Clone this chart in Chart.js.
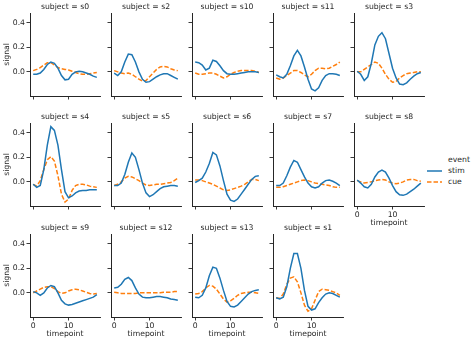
<!DOCTYPE html>
<html lang="en">
<head>
  <meta charset="UTF-8" />
  <title>signal by subject</title>
  <script src="https://cdn.jsdelivr.net/npm/chart.js"></script>
  <style>
    body {
      margin: 0;
      width: 474px;
      height: 342px;
      position: relative;
      overflow: hidden;
      background: #fff;
      font-family: "DejaVu Sans", sans-serif;
      color: #262626;
    }
    canvas.panel {
      position: absolute;
    }
    .leg {
      position: absolute;
      font-size: 7.7px;
      line-height: 10px;
      white-space: nowrap;
    }
    .legline {
      position: absolute;
    }
  </style>
</head>
<body>
  <div class="leg" style="left:448px; top:155px;">event</div>
  <svg class="legline" style="left:427px; top:169px;" width="16" height="4">
    <line x1="0" y1="2" x2="15" y2="2" stroke="#1f77b4" stroke-width="1.5" />
  </svg>
  <div class="leg" style="left:448px; top:166px;">stim</div>
  <svg class="legline" style="left:427px; top:180px;" width="16" height="4">
    <line x1="0" y1="2" x2="15" y2="2" stroke="#ff7f0e" stroke-width="1.5" stroke-dasharray="4.5 2" />
  </svg>
  <div class="leg" style="left:448px; top:177px;">cue</div>

  <script>
    // facets in reading order, 5 per row
    const subjects = ["s0", "s2", "s10", "s11", "s3", "s4", "s5", "s6", "s7", "s8", "s9", "s12", "s13", "s1"];
    const timepoints = [0, 1, 2, 3, 4, 5, 6, 7, 8, 9, 10, 11, 12, 13, 14, 15, 16, 17, 18];
    const xTicks = [0, 10];
    const yTicks = [0.0, 0.2, 0.4];

    // mean signal for the "stim" event, one row per subject
    const stimSignal = [
      [-0.02, -0.02, -0.01, 0.02, 0.06, 0.08, 0.07, 0.03, -0.03, -0.065, -0.06, -0.02, 0.0, 0.005, 0.0, -0.01, -0.02, -0.035, -0.045],
      [-0.01, -0.03, 0.0, 0.08, 0.145, 0.14, 0.08, 0.0, -0.06, -0.085, -0.08, -0.06, -0.04, -0.025, -0.015, -0.015, -0.03, -0.045, -0.06],
      [0.08, 0.075, 0.055, 0.015, 0.03, 0.095, 0.085, 0.05, 0.01, -0.015, -0.02, -0.02, -0.015, -0.01, -0.005, 0.0, 0.0, 0.0, -0.005],
      [-0.025, -0.04, -0.05, -0.02, 0.05, 0.13, 0.175, 0.13, 0.04, -0.06, -0.14, -0.155, -0.13, -0.07, -0.03, -0.015, -0.015, -0.02, -0.03],
      [0.005, -0.02, -0.07, -0.04, 0.07, 0.22, 0.29, 0.32, 0.27, 0.15, 0.03, -0.05, -0.1, -0.105, -0.09, -0.06, -0.035, -0.015, -0.005],
      [-0.02, -0.045, -0.03, 0.1, 0.3, 0.45, 0.42, 0.3, 0.1, -0.08, -0.13, -0.115, -0.09, -0.075, -0.07, -0.07, -0.065, -0.065, -0.065],
      [-0.03, -0.03, -0.01, 0.06, 0.16, 0.235, 0.2, 0.1, -0.01, -0.09, -0.12, -0.105, -0.08, -0.055, -0.04, -0.035, -0.03, -0.03, -0.035],
      [-0.005, 0.01, 0.03, 0.08, 0.15, 0.24, 0.22, 0.13, 0.01, -0.1, -0.15, -0.16, -0.14, -0.1, -0.06, -0.02, 0.02, 0.045, 0.05],
      [-0.03, -0.03, -0.01, 0.05, 0.12, 0.175, 0.16, 0.1, 0.04, -0.01, -0.04, -0.05, -0.04, -0.01, 0.01, 0.015, 0.005, -0.01, -0.03],
      [0.015, -0.01, -0.04, -0.05, -0.02, 0.04, 0.08, 0.095, 0.08, 0.03, -0.03, -0.08, -0.105, -0.11, -0.1, -0.08, -0.06, -0.035, -0.01],
      [0.01, 0.0, -0.02, 0.0, 0.04, 0.06, 0.05, 0.0, -0.06, -0.09, -0.1, -0.095, -0.085, -0.075, -0.065, -0.055, -0.045, -0.035, -0.015],
      [0.04, 0.045, 0.07, 0.11, 0.125, 0.1, 0.04, -0.01, -0.035, -0.04, -0.04, -0.035, -0.03, -0.03, -0.035, -0.04, -0.05, -0.055, -0.06],
      [-0.035, -0.04, -0.02, 0.04, 0.14, 0.21, 0.2, 0.12, 0.02, -0.07, -0.11, -0.115, -0.1, -0.07, -0.04, -0.01, 0.01, 0.02, 0.025],
      [-0.04, -0.05, -0.035, 0.05, 0.2, 0.32, 0.32, 0.2, 0.02, -0.11, -0.14, -0.13, -0.08, -0.04, -0.01, 0.0, -0.005, -0.02, -0.035]
    ];

    // mean signal for the "cue" event, same subject order
    const cueSignal = [
      [0.01, 0.02, 0.035, 0.055, 0.075, 0.075, 0.055, 0.035, 0.025, 0.02, 0.015, 0.005, -0.005, -0.015, -0.02, -0.02, -0.015, -0.01, -0.005],
      [0.01, 0.0, -0.01, -0.015, -0.01, -0.02, -0.04, -0.06, -0.075, -0.07, -0.04, -0.01, 0.02, 0.04, 0.045, 0.04, 0.025, 0.015, 0.01],
      [-0.01, -0.02, -0.02, -0.015, -0.01, -0.01, -0.02, -0.035, -0.05, -0.04, -0.02, -0.005, 0.005, 0.01, 0.01, 0.01, 0.01, 0.005, -0.005],
      [-0.05, -0.06, -0.05, -0.03, -0.01, 0.01, 0.01, -0.005, -0.025, -0.04, -0.02, 0.01, 0.03, 0.03, 0.025, 0.03, 0.045, 0.06, 0.08],
      [0.0, 0.0, 0.02, 0.04, 0.06, 0.08, 0.07, 0.03, -0.02, -0.06, -0.085, -0.08, -0.05, -0.03, -0.015, -0.01, -0.005, 0.0, 0.0],
      [-0.02, -0.035, 0.01, 0.1, 0.18, 0.205, 0.17, 0.05, -0.1, -0.165, -0.14, -0.07, -0.03, -0.02, -0.02, -0.025, -0.035, -0.04, -0.045],
      [-0.03, -0.02, 0.0, 0.03, 0.045, 0.04, 0.025, 0.01, -0.01, -0.025, -0.03, -0.025, -0.02, -0.02, -0.015, -0.01, -0.005, 0.01, 0.03],
      [0.015, 0.015, 0.01, 0.0, -0.01, -0.02, -0.035, -0.05, -0.065, -0.07, -0.065, -0.055, -0.045, -0.035, -0.02, 0.0, 0.02, 0.02, 0.01],
      [-0.045, -0.045, -0.04, -0.03, -0.02, -0.01, 0.0, 0.01, 0.015, 0.01, 0.0, -0.01, -0.015, -0.02, -0.025, -0.03, -0.04, -0.045, -0.045],
      [0.01, 0.0, -0.01, -0.005, 0.0, 0.01, 0.015, 0.02, 0.015, 0.0, -0.01, -0.015, -0.01, 0.0, 0.015, 0.02, 0.02, 0.01, 0.005],
      [0.0, 0.015, 0.03, 0.045, 0.05, 0.05, 0.035, 0.01, -0.005, 0.0, 0.015, 0.025, 0.03, 0.025, 0.015, 0.005, -0.005, -0.01, -0.005],
      [0.005, 0.0, -0.005, -0.005, -0.005, -0.005, -0.005, 0.0, 0.0, 0.0, 0.0, 0.0, 0.0, 0.0, 0.005, 0.005, 0.005, 0.01, 0.01],
      [-0.01, -0.005, 0.01, 0.04, 0.06, 0.055, 0.03, -0.01, -0.05, -0.075, -0.065, -0.045, -0.02, -0.005, 0.0, 0.005, 0.005, 0.0, -0.005],
      [-0.04, -0.045, -0.01, 0.07, 0.12, 0.13, 0.09, 0.0, -0.1, -0.15, -0.13, -0.06, 0.01, 0.03, 0.025, 0.02, 0.01, 0.0, -0.02]
    ];

    const ink = "#262626";
    const font = { family: "'DejaVu Sans', sans-serif", size: 7.7, lineHeight: 1.2 };

    // plot-area origin of each facet column / row
    const colLeft = [30, 111, 192, 273, 354];
    const rowTop = [13, 123, 234];

    // facet header, centred over the plot area rather than the whole canvas
    const facetTitle = {
      id: "facetTitle",
      afterDraw(chart, args, opts) {
        const { ctx, chartArea } = chart;
        ctx.save();
        ctx.font = font.size + "px " + font.family;
        ctx.fillStyle = ink;
        ctx.textAlign = "center";
        ctx.textBaseline = "middle";
        ctx.fillText(opts.text, (chartArea.left + chartArea.right) / 2, 6);
        ctx.restore();
      }
    };

    subjects.forEach((subj, i) => {
      const col = i % 5;
      const row = Math.floor(i / 5);
      const firstCol = col === 0;
      const showX = i >= 9; // facets with nothing below them

      const canvas = document.createElement("canvas");
      canvas.className = "panel";
      canvas.width = 103;
      canvas.height = 120;
      canvas.style.left = (colLeft[col] - 30) + "px";
      canvas.style.top = (rowTop[row] - 12) + "px";
      document.body.appendChild(canvas);

      const toPoints = arr => timepoints.map((t, k) => ({ x: t, y: arr[k] }));

      new Chart(canvas, {
        type: "line",
        data: {
          datasets: [
            {
              label: "stim",
              data: toPoints(stimSignal[i]),
              borderColor: "#1f77b4",
              borderWidth: 1.5,
              pointRadius: 0,
              tension: 0
            },
            {
              label: "cue",
              data: toPoints(cueSignal[i]),
              borderColor: "#ff7f0e",
              borderWidth: 1.5,
              borderDash: [4.5, 2],
              pointRadius: 0,
              tension: 0
            }
          ]
        },
        plugins: [facetTitle],
        options: {
          responsive: false,
          animation: false,
          events: [],
          layout: { padding: { top: 12, right: 3, bottom: 0, left: 0 } },
          plugins: {
            legend: { display: false },
            tooltip: { enabled: false },
            title: { display: false },
            facetTitle: { text: "subject = " + subj }
          },
          scales: {
            x: {
              type: "linear",
              min: -0.9,
              max: 18.9,
              afterBuildTicks: s => { s.ticks = xTicks.map(v => ({ value: v })); },
              afterFit: s => { s.height = 25; },
              grid: { display: true, drawOnChartArea: false, drawTicks: true, tickLength: 3.5, color: ink, lineWidth: 0.9 },
              border: { display: true, color: ink, width: 1 },
              ticks: { display: showX, padding: 0.5, color: ink, font: font, maxRotation: 0, callback: v => v },
              title: { display: showX, text: "timepoint", color: ink, font: font, padding: { top: 0, bottom: 3.4 } }
            },
            y: {
              type: "linear",
              min: -0.197,
              max: 0.48,
              afterBuildTicks: s => { s.ticks = yTicks.map(v => ({ value: v })); },
              afterFit: s => { s.width = 30; },
              grid: { display: true, drawOnChartArea: false, drawTicks: true, tickLength: 3.5, color: ink, lineWidth: 0.9 },
              border: { display: true, color: ink, width: 1 },
              ticks: { display: firstCol, padding: 1.5, color: ink, font: font, callback: v => v.toFixed(1) },
              title: { display: firstCol, text: "signal", color: ink, font: font, padding: { top: 2.4, bottom: 0 } }
            }
          }
        }
      });
    });
  </script>
</body>
</html>
